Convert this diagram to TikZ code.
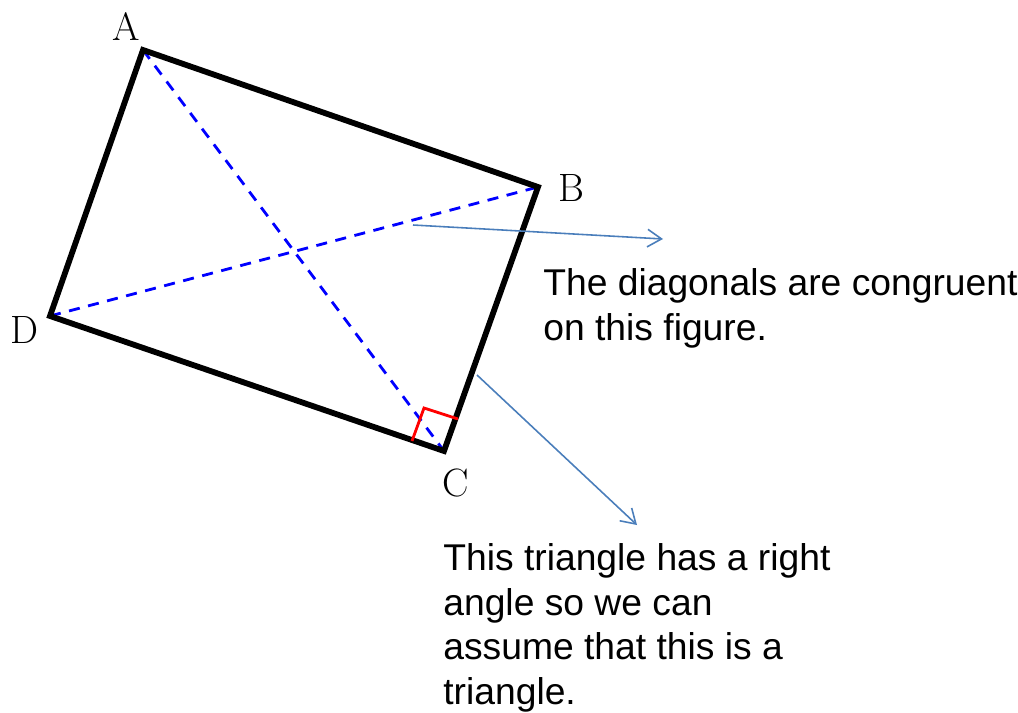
\documentclass[tikz,border=0pt]{standalone}
\usepackage{fontspec}
\setmainfont{Liberation Sans}
\newfontfamily\labelfont{Latin Modern Roman}
\usetikzlibrary{arrows.meta, positioning}
\definecolor{pointer}{HTML}{4A7EBB}
\tikzstyle{side} = [draw, line width=3.3pt, line join=miter]
\tikzstyle{diagonal} = [draw, blue, line width=1.6pt, dash pattern=on 6.3pt off 4.9pt]
\tikzstyle{square} = [draw, red, line width=1.6pt, line join=miter]
\tikzstyle{pointerline} = [draw, pointer, line width=0.9pt, -{Straight Barb[length=8pt,width=10pt]}]
\tikzstyle{corner} = [inner sep=0pt, font=\labelfont\fontsize{22.5}{22.5}\selectfont]
\tikzstyle{note} = [inner sep=0pt, align=left, anchor=north west, font=\fontsize{21.2}{25.5}\selectfont]

\begin{document}
\begin{tikzpicture}[x=0.02cm, y=-0.02cm]
    \useasboundingbox (0,0) rectangle (1018,713);
    % We start by placing the corners
    \coordinate (A) at (143,50);
    \coordinate (B) at (538,187);
    \coordinate (C) at (444,451);
    \coordinate (D) at (50,316);
    \node [corner] (labela) at (126,27) {A};
    \node [corner] (labelb) at (571,188) {B};
    \node [corner] (labelc) at (456,483) {C};
    \node [corner] (labeld) at (24,330) {D};

    % the texts
    \node [note] (congruent) at (543,268) {The diagonals are congruent\\on this figure.};
    \node [note] (triangle) at (443,543) {This triangle has a right\\angle so we can\\assume that this is a\\triangle.};

    % free ends of the pointers
    \coordinate (start1) at (413,225);
    \coordinate (end1) at (663,239);
    \coordinate (start2) at (477,375);
    \coordinate (end2) at (637,525);
    % right angle mark
    \coordinate (mark1) at (412,441);
    \coordinate (mark2) at (424,408);
    \coordinate (mark3) at (458,419);

    \draw[diagonal] (A) -- (C);
    \draw[diagonal] (D) -- (B);
    \draw[side] (A) -- (B) -- (C) -- (D) -- cycle;
    \draw[square] (mark1) -- (mark2) -- (mark3);
    \draw[pointerline] (start1) -- (end1);
    \draw[pointerline] (start2) -- (end2);
\end{tikzpicture}
\end{document}
